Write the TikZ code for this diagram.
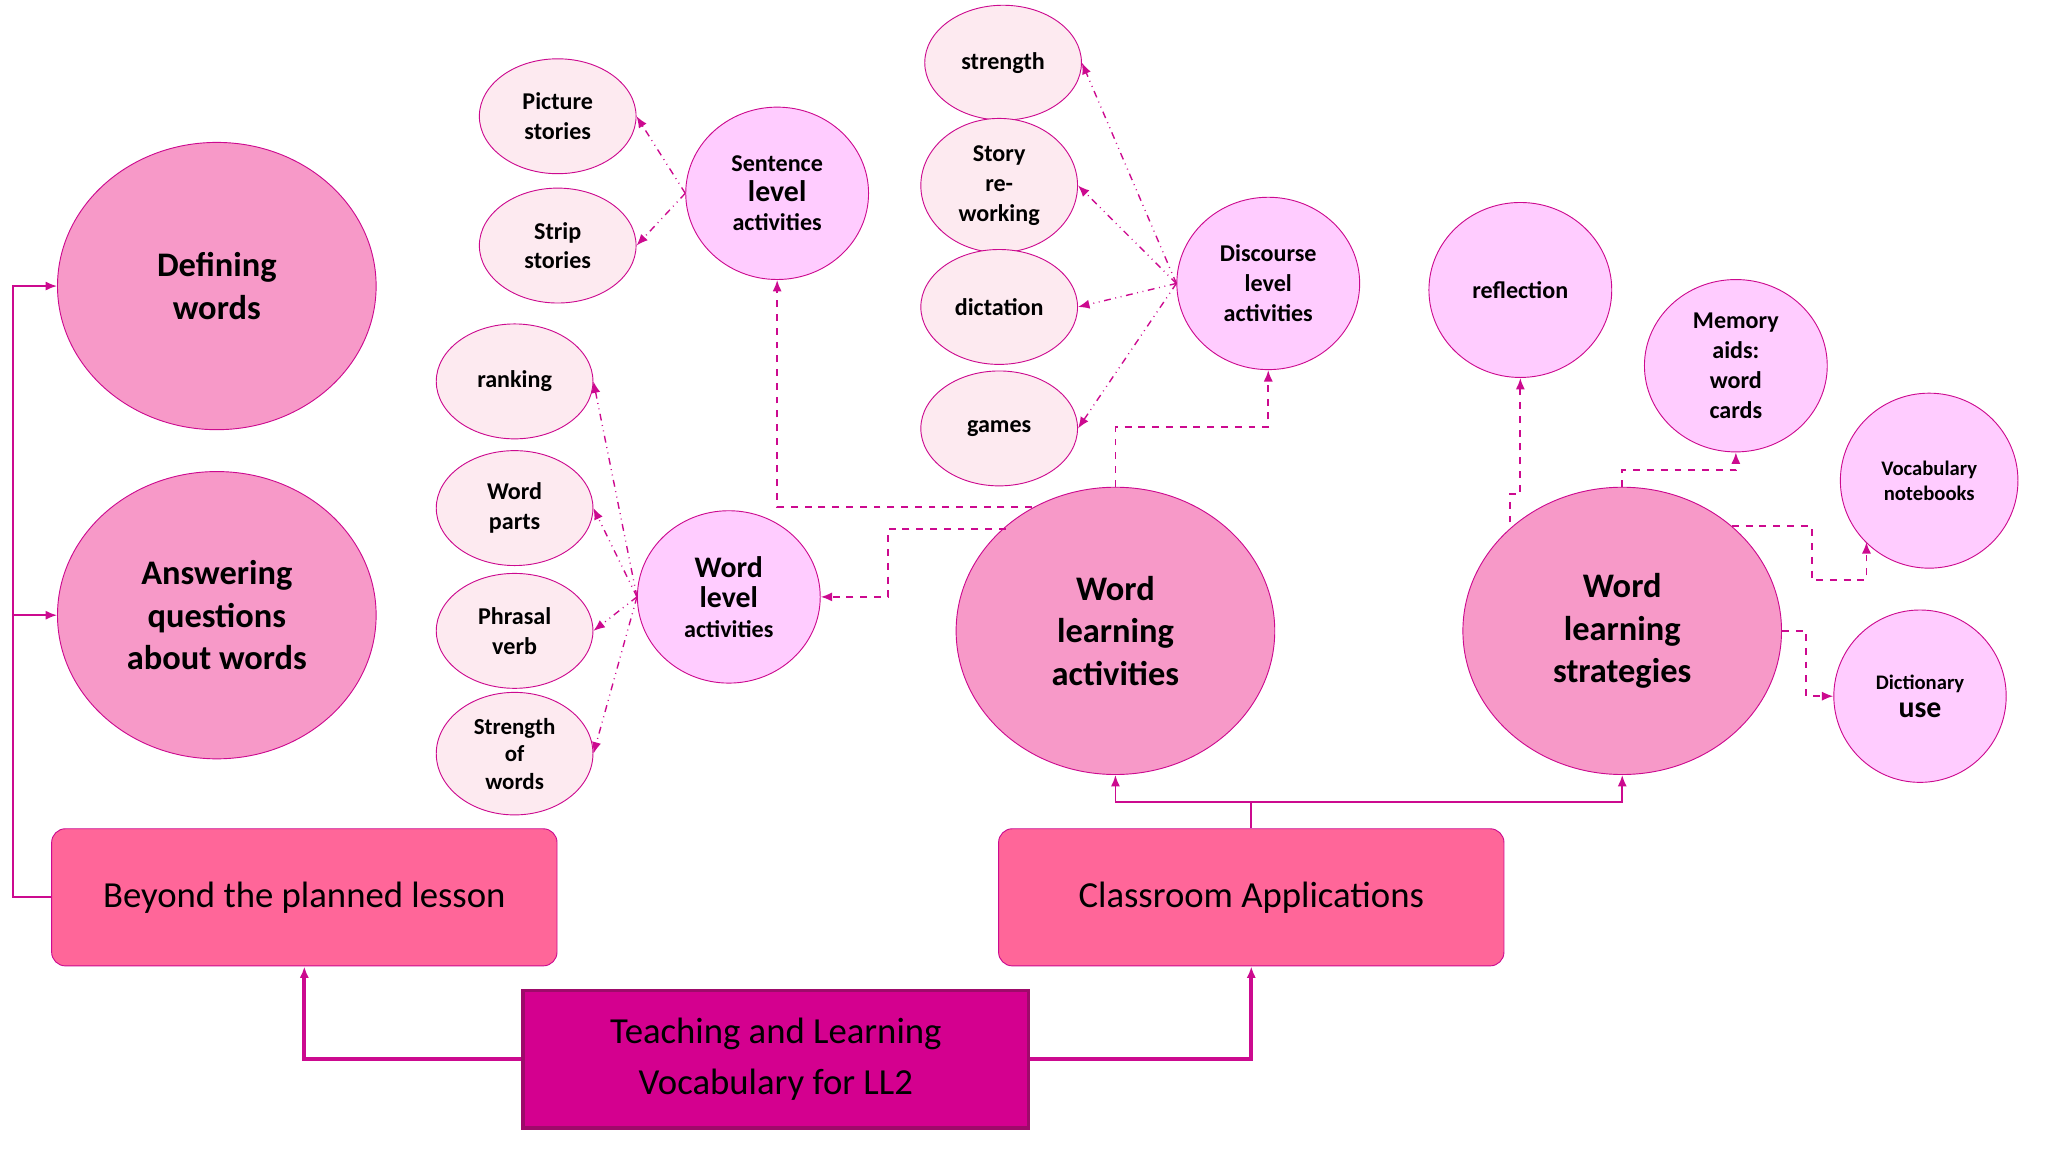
\documentclass[tikz,border=0pt]{standalone}
\usepackage{fontspec}
\setmainfont{Carlito}
\usetikzlibrary{shapes.geometric,arrows.meta}

\definecolor{lineC}{HTML}{CC0A8F}
\definecolor{bigF}{HTML}{F799C8}
\definecolor{midF}{HTML}{FFCCFF}
\definecolor{smallF}{HTML}{FDEAF0}
\definecolor{boxF}{HTML}{FF6699}
\definecolor{rootF}{HTML}{D4008F}
\definecolor{rootD}{HTML}{9E0A6A}

\begin{document}
\begin{tikzpicture}[x=0.02cm,y=-0.02cm,
  big/.style={ellipse,draw=lineC,fill=bigF,minimum width=4.88cm,minimum height=4.4cm,align=center,font=\fontsize{15}{18.5}\selectfont\bfseries},
  mid/.style={ellipse,draw=lineC,fill=midF,minimum width=2.8cm,minimum height=2.64cm,align=center,font=\fontsize{10.5}{13}\selectfont\bfseries},
  small/.style={ellipse,draw=lineC,fill=smallF,minimum width=2.4cm,minimum height=1.76cm,align=center,font=\fontsize{10.5}{13}\selectfont\bfseries},
  box/.style={rectangle,rounded corners=6pt,draw=lineC,fill=boxF,minimum width=7.74cm,minimum height=2.1cm,font=\fontsize{16}{19}\selectfont},
  tip/.style={-{Latex[length=5pt,width=4pt]}},
  solid link/.style={tip,draw=lineC,line width=0.8pt},
  dash link/.style={tip,draw=lineC,dashed,line width=0.8pt},
  dot link/.style={tip,draw=lineC,dash dot dot,line width=0.6pt}]
\useasboundingbox (0,0) rectangle (1568,880);

%boxes
\node[box] (beyond) at (233,687) {Beyond the planned lesson};
\node[box] (class) at (958,687) {Classroom Applications};
\node[box,fill=rootF,draw=rootD,line width=1.5pt,rounded corners=0pt,align=center,font=\fontsize{16}{22}\selectfont] (root) at (594,811) {Teaching and Learning\\Vocabulary for LL2};

%big circles
\node[big] (define) at (166,219) {Defining\\words};
\node[big] (answer) at (166,471) {Answering\\questions\\about words};
\node[big] (wla) at (854,483) {Word\\learning\\activities};
\node[big] (wls) at (1242,483) {Word\\learning\\strategies};

%middle circles
\node[mid] (sentence) at (595,148) {Sentence\\{\fontsize{13}{15}\selectfont level}\\activities};
\node[mid] (wordlvl) at (558,457) {{\fontsize{13}{15}\selectfont Word}\\{\fontsize{13}{15}\selectfont level}\\activities};
\node[mid] (discourse) at (971,217) {Discourse\\level\\activities};
\node[mid,minimum height=2.68cm] (reflect) at (1164,222) {reflection};
\node[mid] (memory) at (1329,280) {Memory\\aids:\\word\\cards};
\node[mid,minimum width=2.72cm,minimum height=2.68cm,font=\fontsize{9}{11}\selectfont\bfseries] (notebook) at (1477,368) {Vocabulary\\notebooks};
\node[mid,minimum width=2.64cm,font=\fontsize{9}{12}\selectfont\bfseries] (dict) at (1470,533) {Dictionary\\{\fontsize{13}{15}\selectfont use}};

%small circles
\node[small] (picture) at (427,89) {Picture\\stories};
\node[small] (strip) at (427,188) {Strip\\stories};
\node[small] (ranking) at (394,292) {ranking};
\node[small] (parts) at (394,389) {Word\\parts};
\node[small] (phrasal) at (394,483) {Phrasal\\verb};
\node[small,font=\fontsize{10}{12}\selectfont\bfseries] (strwords) at (394,577) {Strength\\of\\words};
\node[small] (strength) at (768,48) {strength};
\node[small] (story) at (765,142) {Story\\re-\\working};
\node[small] (dictation) at (765,235) {dictation};
\node[small] (games) at (765,328) {games};

%solid connectors
\draw[solid link,line width=1.6pt] (root.west) -| (beyond.south);
\draw[solid link,line width=1.6pt] (root.east) -| (class.south);
\coordinate (bleft) at (10,687);
\draw[solid link] (beyond.west) -- (bleft) |- (define.west);
\draw[solid link] (bleft) |- (answer.west);
\coordinate (cfork) at (958,614);
\draw[solid link] (class.north) -- (cfork) -| (wla.south);
\draw[solid link] (cfork) -| (wls.south);

%dashed connectors
\coordinate (a1) at (790,388);
\coordinate (a2) at (770,405);
\coordinate (a3) at (680,405);
\draw[dash link] (a1) -| (sentence.south);
\draw[dash link] (a2) -- (a3) |- (wordlvl.east);
\draw[dash link] (wla.north) |- (912,327) -| (discourse.south);
\coordinate (s1) at (1156,400);
\draw[dash link] (s1) -- (1156,378) -| (reflect.south);
\draw[dash link] (wls.north) -- (1242,360) -| (memory.south);
\coordinate (s2) at (1326,403);
\draw[dash link] (s2) -| (1387,444) -| (1429,415);
\draw[dash link] (wls.east) -- (1383,483) |- (dict.west);

%dash dot connectors
\foreach \t in {picture,strip}
  \draw[dot link] (sentence.west) -- (\t.east);
\foreach \t in {ranking,parts,phrasal,strwords}
  \draw[dot link] (wordlvl.west) -- (\t.east);
\foreach \t in {strength,story,dictation,games}
  \draw[dot link] (discourse.west) -- (\t.east);
\end{tikzpicture}
\end{document}
